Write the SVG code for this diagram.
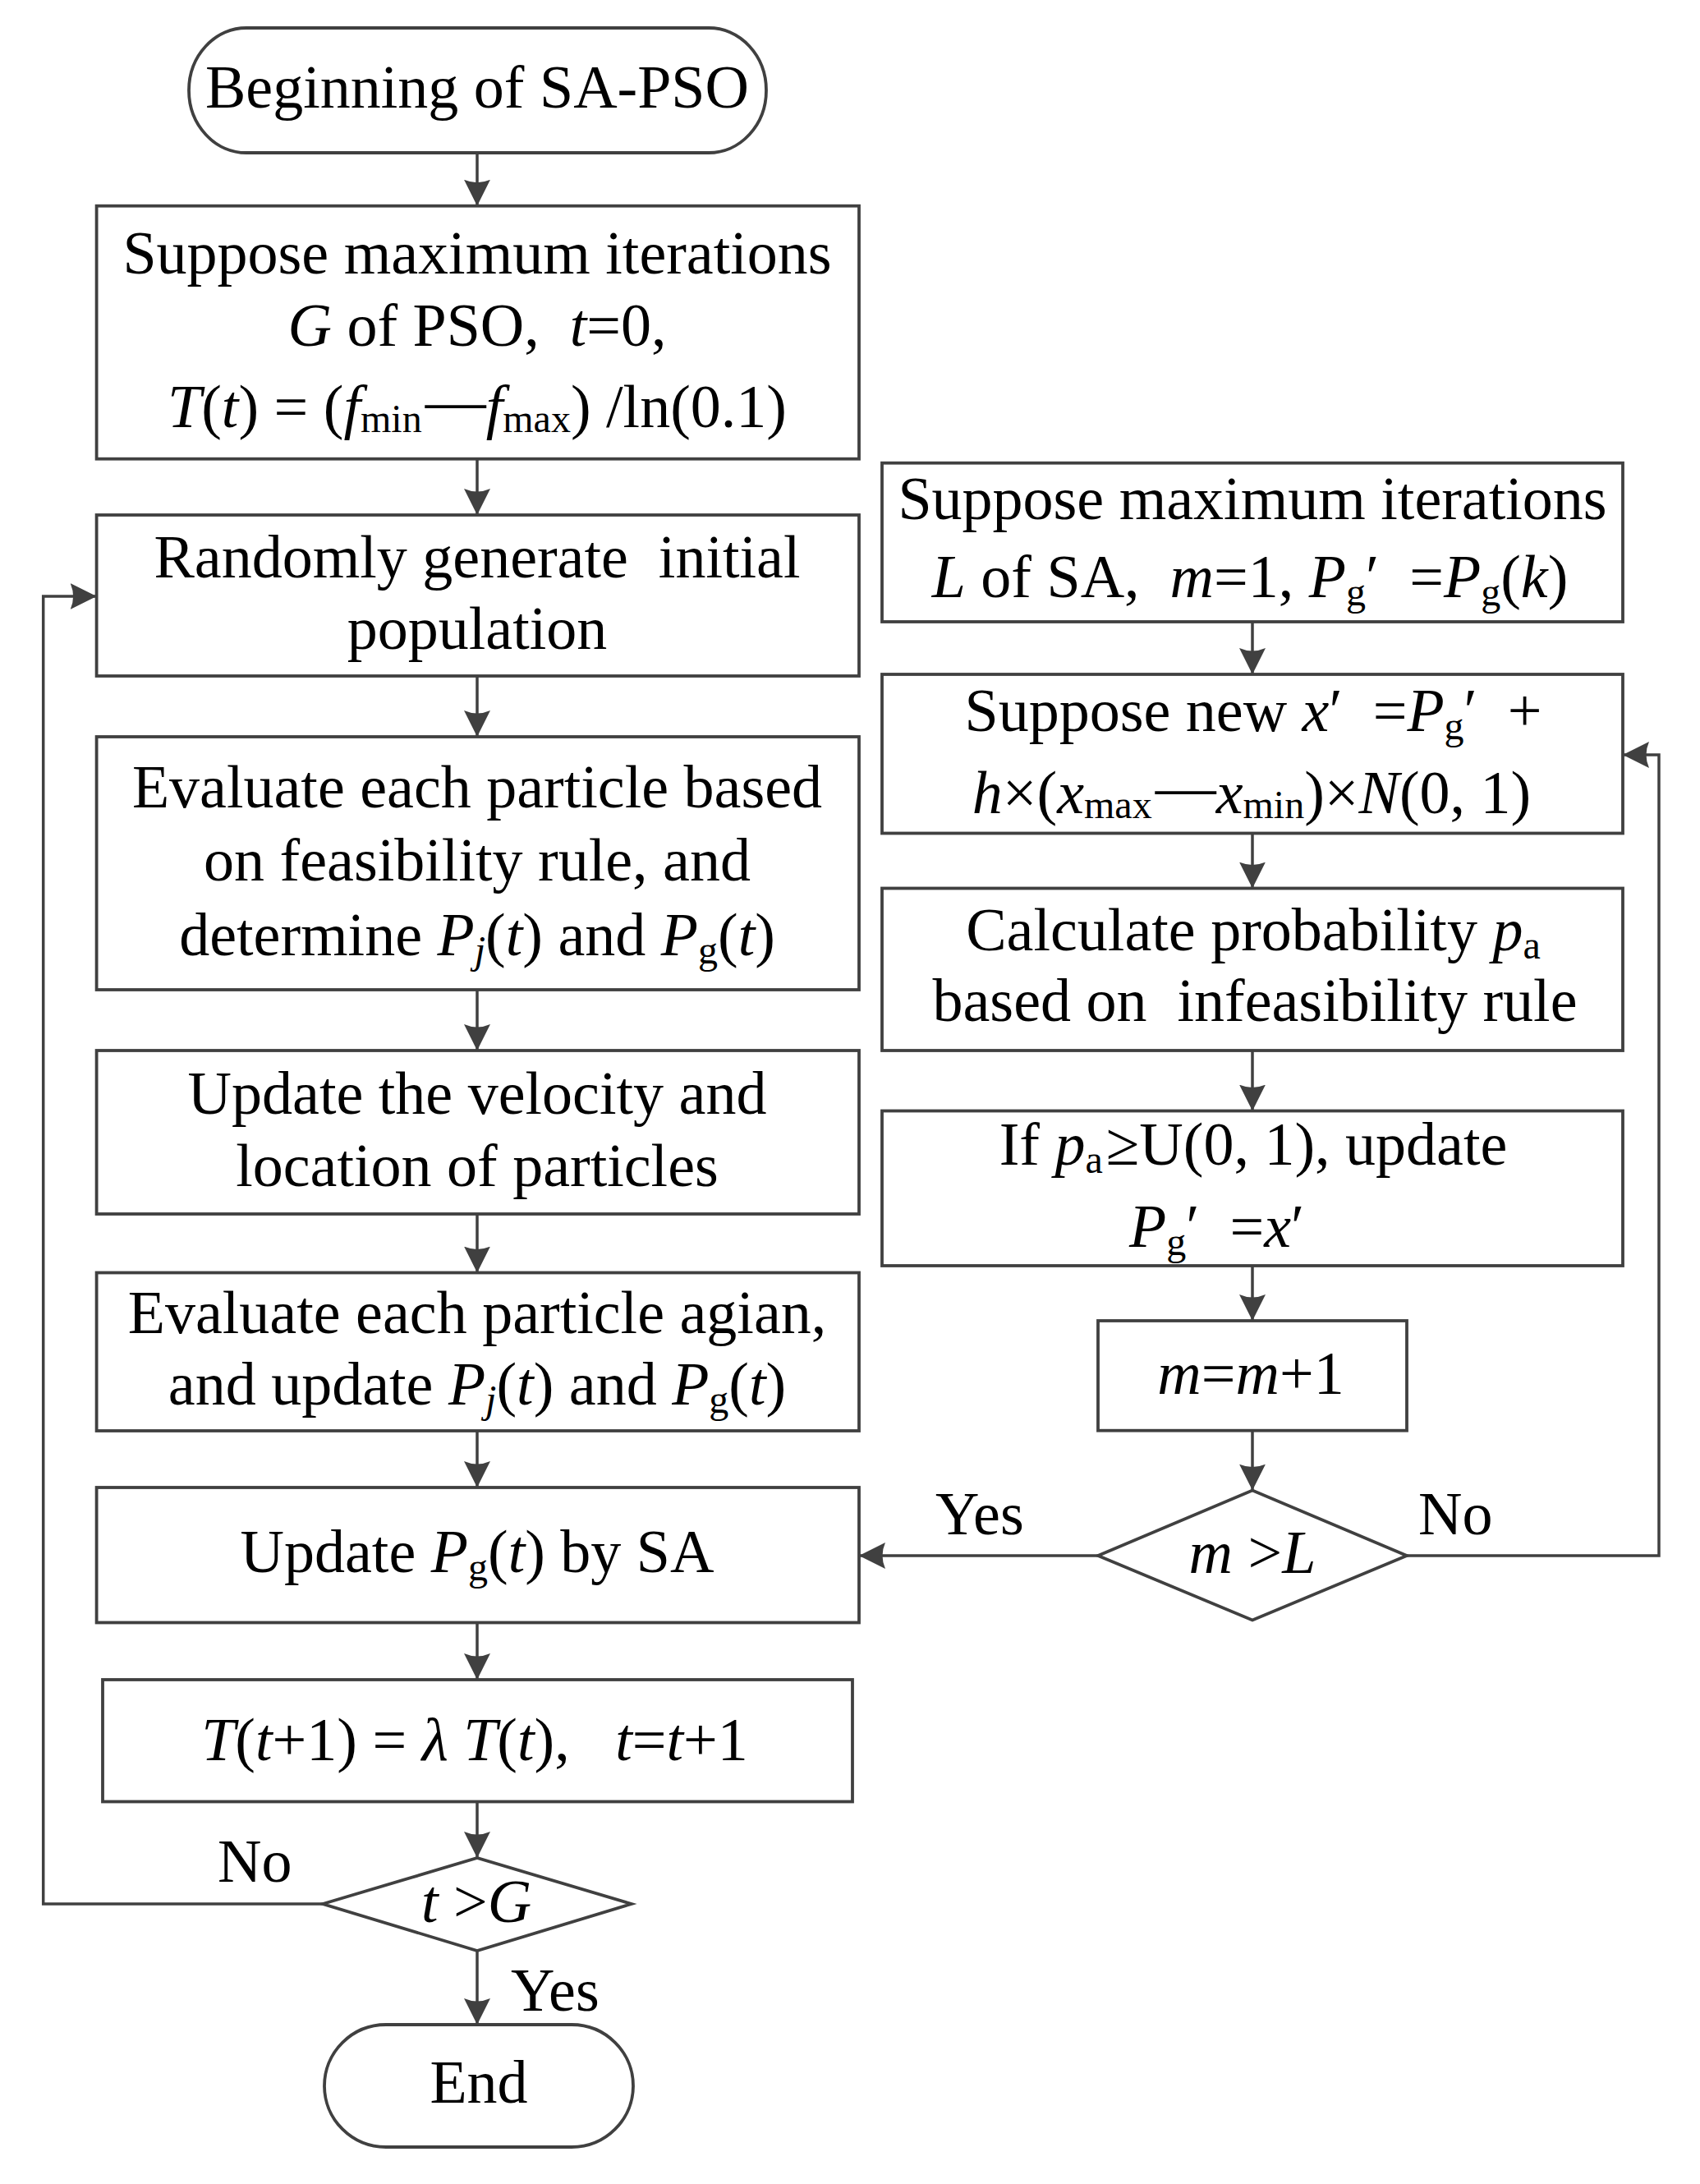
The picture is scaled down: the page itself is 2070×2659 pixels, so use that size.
<svg xmlns="http://www.w3.org/2000/svg" width="2070" height="2659" viewBox="0 0 2070 2659" xml:space="preserve">
<defs>
<style>
.n rect, .n path, .n polygon {fill:#fff; stroke:#404040; stroke-width:3.8}
text {font-family:"Liberation Serif","Times New Roman",serif; font-size:74px; fill:#000; text-anchor:middle; white-space:pre}
.i {font-style:italic}
.s {font-size:48px}
.l {text-anchor:start}
.c path {fill:none; stroke:#404040; stroke-width:3.5; marker-end:url(#ah)}
</style>
<marker id="ah" viewBox="0 0 32 32" markerWidth="32" markerHeight="32" refX="32" refY="16" orient="auto" markerUnits="userSpaceOnUse"><path d="M0,0 L32,16 L0,32 Q7,16 0,0 Z" fill="#404040"/></marker>
</defs>
<rect width="2070" height="2659" fill="#fff"/>
<g class="c" id="connectors">
<path d="M581,186 V250.7"/>
<path d="M581,558.7 V627"/>
<path d="M581,823 V897"/>
<path d="M581,1205 V1279"/>
<path d="M581,1478 V1549.5"/>
<path d="M581,1742 V1811"/>
<path d="M581,1975.5 V2045"/>
<path d="M581,2193.5 V2262"/>
<path d="M581,2375 V2465"/>
<path d="M393,2318 H52.7 V726 H117.6"/>
<path d="M1525,757 V821"/>
<path d="M1525,1014.5 V1081.5"/>
<path d="M1525,1279 V1352.5"/>
<path d="M1525,1541 V1608"/>
<path d="M1525,1741.7 V1814.6"/>
<path d="M1337,1894 H1046"/>
<path d="M1713,1894 H2020 V919 H1976"/>
</g>
<g class="n" id="start"><rect x="230" y="34" width="703" height="152" rx="70" ry="76"/><text x="581" y="131">Beginning of SA-PSO</text></g>
<g class="n" id="init"><rect x="117.6" y="250.7" width="928.4" height="308"/>
<text x="581" y="333">Suppose maximum iterations</text>
<text x="581" y="421"><tspan class="i">G</tspan> of PSO,  <tspan class="i">t</tspan>=0,</text>
<text x="581" y="520"><tspan class="i">T</tspan>(<tspan class="i">t</tspan>) = (<tspan class="i">f</tspan><tspan class="s" dy="6">min</tspan><tspan dx="4" dy="-14">—</tspan><tspan class="i" dy="8">f</tspan><tspan class="s" dy="6">max</tspan><tspan dy="-6">) /ln(0.1)</tspan></text></g>
<g class="n" id="random"><rect x="117.6" y="627" width="928.4" height="196"/>
<text x="581" y="703">Randomly generate  initial</text>
<text x="581" y="790">population</text></g>
<g class="n" id="evaluate"><rect x="117.6" y="897" width="928.4" height="308"/>
<text x="581" y="983">Evaluate each particle based</text>
<text x="581" y="1072">on feasibility rule, and</text>
<text x="581" y="1163">determine <tspan class="i">P</tspan><tspan class="s i" dy="10">j</tspan><tspan dy="-10">(</tspan><tspan class="i">t</tspan>) and <tspan class="i">P</tspan><tspan class="s" dy="10">g</tspan><tspan dy="-10">(</tspan><tspan class="i">t</tspan>)</text></g>
<g class="n" id="update-vel"><rect x="117.6" y="1279" width="928.4" height="199"/>
<text x="581" y="1356">Update the velocity and</text>
<text x="581" y="1444">location of particles</text></g>
<g class="n" id="evaluate2"><rect x="117.6" y="1549.5" width="928.4" height="192.5"/>
<text x="581" y="1623">Evaluate each particle agian,</text>
<text x="581" y="1710">and update <tspan class="i">P</tspan><tspan class="s i" dy="10">j</tspan><tspan dy="-10">(</tspan><tspan class="i">t</tspan>) and <tspan class="i">P</tspan><tspan class="s" dy="10">g</tspan><tspan dy="-10">(</tspan><tspan class="i">t</tspan>)</text></g>
<g class="n" id="update-sa"><rect x="117.6" y="1811" width="928.4" height="164.5"/>
<text x="581" y="1914">Update <tspan class="i">P</tspan><tspan class="s" dy="10">g</tspan><tspan dy="-10">(</tspan><tspan class="i">t</tspan>) by SA</text></g>
<g class="n" id="temp"><rect x="125" y="2045" width="913" height="148.5"/>
<text x="578" y="2143"><tspan class="i">T</tspan>(<tspan class="i">t</tspan>+1) = <tspan class="i">λ</tspan> <tspan class="i">T</tspan>(<tspan class="i">t</tspan>),   <tspan class="i">t</tspan>=<tspan class="i">t</tspan>+1</text></g>
<g class="n" id="check-g"><polygon points="393,2318 581,2262 769,2318 581,2375"/>
<text x="580" y="2340"><tspan class="i">t</tspan> &gt;<tspan class="i">G</tspan></text></g>
<g class="n" id="end"><rect x="395" y="2465" width="376" height="149" rx="75" ry="74.5"/><text x="583" y="2560">End</text></g>
<g class="n" id="sa-init"><rect x="1074" y="563.7" width="902" height="193.3"/>
<text x="1525" y="632">Suppose maximum iterations</text>
<text x="1522" y="727"><tspan class="i">L</tspan> of SA,  <tspan class="i">m</tspan>=1, <tspan class="i">P</tspan><tspan class="s" dy="10">g</tspan><tspan dy="-10">′  =</tspan><tspan class="i">P</tspan><tspan class="s" dy="10">g</tspan><tspan dy="-10">(</tspan><tspan class="i">k</tspan>)</text></g>
<g class="n" id="sa-new"><rect x="1074" y="821" width="902" height="193.5"/>
<text x="1526" y="890">Suppose new <tspan class="i">x</tspan>′  =<tspan class="i">P</tspan><tspan class="s" dy="10">g</tspan><tspan dy="-10">′  +</tspan></text>
<text x="1524" y="990"><tspan class="i">h</tspan>×(<tspan class="i">x</tspan><tspan class="s" dy="6">max</tspan><tspan dx="4" dy="-14">—</tspan><tspan class="i" dy="8">x</tspan><tspan class="s" dy="6">min</tspan><tspan dy="-6">)×</tspan><tspan class="i">N</tspan>(0, 1)</text></g>
<g class="n" id="sa-prob"><rect x="1074" y="1081.5" width="902" height="197.5"/>
<text x="1526" y="1157">Calculate probability <tspan class="i">p</tspan><tspan class="s" dy="10">a</tspan></text>
<text x="1528" y="1243">based on  infeasibility rule</text></g>
<g class="n" id="sa-update"><rect x="1074" y="1352.5" width="902" height="188.5"/>
<text x="1526" y="1418">If <tspan class="i">p</tspan><tspan class="s" dy="10">a</tspan><tspan dx="4" dy="-10">≥U(0, 1), update</tspan></text>
<text class="l" x="1375" y="1518"><tspan class="i">P</tspan><tspan class="s" dy="10">g</tspan><tspan dy="-10">′  =</tspan><tspan class="i">x</tspan>′</text></g>
<g class="n" id="sa-inc"><rect x="1337" y="1608" width="376" height="133.7"/>
<text x="1523" y="1697"><tspan class="i">m</tspan>=<tspan class="i">m</tspan>+1</text></g>
<g class="n" id="check-l"><polygon points="1337,1894 1525,1814.6 1713,1894 1525,1972.5"/>
<text x="1525" y="1915"><tspan class="i">m</tspan> &gt;<tspan class="i">L</tspan></text></g>
<g id="labels">
<text class="l" x="1139" y="1868">Yes</text>
<text class="l" x="1727" y="1868">No</text>
<text class="l" x="265" y="2291">No</text>
<text class="l" x="622" y="2448">Yes</text>
</g>
</svg>
